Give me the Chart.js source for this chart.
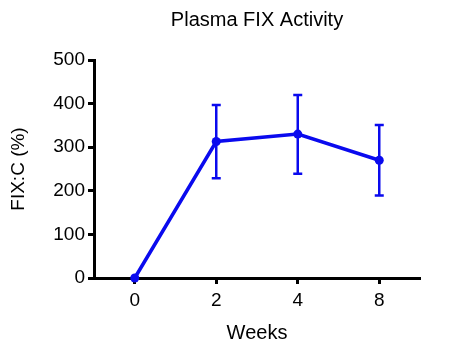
<!DOCTYPE html>
<html>
<head>
<meta charset="utf-8">
<script src="https://cdn.jsdelivr.net/npm/chart.js@4/dist/chart.umd.min.js"></script>
<style>
  html, body { margin: 0; padding: 0; background: #fff; }
  #chart { display: block; }
</style>
</head>
<body>
<canvas id="chart" width="474" height="352"></canvas>
<script>
// Data
const weeks = ['0', '2', '4', '8'];
const fixMean = [0, 313, 330, 270];
const fixLow = [null, 229, 239, 189];
const fixHigh = [null, 397, 420, 351];
const yTicks = [0, 100, 200, 300, 400, 500];

const blue = '#0a0aee';
const fontFamily = '"Liberation Sans", Arial, Helvetica, sans-serif';

// Draws the vertical error bars with caps, using the chart's own scales
const errorBars = {
  id: 'errorBars',
  afterDatasetsDraw(chart) {
    const { ctx, scales } = chart;
    const x = scales.x, y = scales.y;
    ctx.save();
    ctx.strokeStyle = blue;
    ctx.lineWidth = 2.5;
    weeks.forEach((w, i) => {
      if (fixLow[i] == null || fixHigh[i] == null) return;
      const px = x.getPixelForValue(i);
      const top = y.getPixelForValue(fixHigh[i]);
      const bot = y.getPixelForValue(fixLow[i]);
      ctx.beginPath();
      ctx.moveTo(px, top);
      ctx.lineTo(px, bot);
      ctx.moveTo(px - 4.5, top);
      ctx.lineTo(px + 4.5, top);
      ctx.moveTo(px - 4.5, bot);
      ctx.lineTo(px + 4.5, bot);
      ctx.stroke();
    });
    ctx.restore();
  }
};

// Title centred over the plot area, as in the reference
const plotTitle = {
  id: 'plotTitle',
  afterDraw(chart) {
    const { ctx, chartArea } = chart;
    ctx.save();
    ctx.fillStyle = '#000';
    ctx.font = '20px ' + fontFamily;
    ctx.textAlign = 'center';
    ctx.textBaseline = 'middle';
    ctx.fillText('Plasma FIX Activity', (chartArea.left + chartArea.right) / 2, 20);
    ctx.restore();
  }
};

new Chart(document.getElementById('chart'), {
  type: 'line',
  data: {
    labels: weeks,
    datasets: [{
      data: fixMean,
      borderColor: blue,
      backgroundColor: blue,
      borderWidth: 3.5,
      pointRadius: 4.5,
      pointBorderWidth: 0,
      tension: 0,
      clip: false
    }]
  },
  options: {
    responsive: false,
    animation: false,
    layout: { padding: { left: 0, right: 54, top: 60, bottom: 0 } },
    plugins: {
      legend: { display: false },
      title: { display: false },
      tooltip: { enabled: false }
    },
    scales: {
      x: {
        type: 'category',
        offset: true,
        border: { display: true, color: '#000', width: 3 },
        grid: {
          display: true,
          drawOnChartArea: false,
          drawTicks: true,
          tickLength: 6,
          tickWidth: 3,
          tickColor: '#000',
          color: '#000'
        },
        ticks: {
          color: '#000',
          padding: 5,
          font: { family: fontFamily, size: 19 }
        },
        title: {
          display: true,
          text: 'Weeks',
          color: '#000',
          padding: { top: 7, bottom: 7 },
          font: { family: fontFamily, size: 20 }
        },
        afterFit(scale) { scale.height = 74; }
      },
      y: {
        min: 0,
        max: 500,
        afterBuildTicks(scale) { scale.ticks = yTicks.map(v => ({ value: v })); },
        border: { display: true, color: '#000', width: 3 },
        grid: {
          display: true,
          drawOnChartArea: false,
          drawTicks: true,
          tickLength: 6,
          tickWidth: 3,
          tickColor: '#000',
          color: '#000'
        },
        ticks: {
          color: '#000',
          padding: 3,
          font: { family: fontFamily, size: 19 }
        },
        title: {
          display: true,
          text: 'FIX:C (%)',
          color: '#000',
          padding: { top: 7, bottom: 7 },
          font: { family: fontFamily, size: 19 }
        },
        afterFit(scale) { scale.width = 94; }
      }
    }
  },
  plugins: [errorBars, plotTitle]
});
</script>
</body>
</html>
